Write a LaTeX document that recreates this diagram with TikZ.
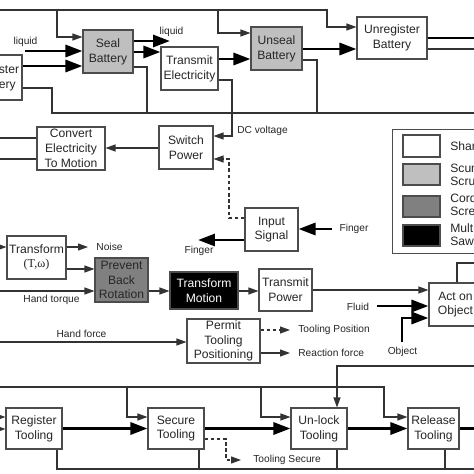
\documentclass[tikz,border=0pt]{standalone}
\usepackage{fontspec}
\setmainfont{Liberation Sans}
\newfontfamily\timesfont{Liberation Serif}
\usetikzlibrary{arrows.meta}

\begin{document}
\begin{tikzpicture}[x=0.02cm, y=-0.02cm,
        fn/.style={draw=black!70, line width=0.6pt, align=center, inner sep=0pt, text=black!85,
            font=\fontsize{6.9}{8.4}\selectfont},
        sz/.style 2 args={minimum width=#1*0.02cm, minimum height=#2*0.02cm},
        lbl/.style={inner sep=0pt, text=black!85, font=\fontsize{5.8}{7}\selectfont},
        keytxt/.style={anchor=west, align=left, inner sep=0pt, text=black!85,
            font=\fontsize{6.9}{7.4}\selectfont},
        wire/.style={draw=black!80, line width=0.6pt},
        bigwire/.style={draw=black, line width=1.7pt},
        flow/.style={wire, -{Triangle[length=0.2cm,width=0.14cm]}},
        bigflow/.style={bigwire, -{Triangle[length=0.34cm,width=0.24cm]}},
        sig/.style={flow, dash pattern=on 2pt off 1.5pt},
        scrub/.style={fill=black!25},
        drill/.style={fill=black!50},
        saw/.style={fill=black, text=white}]

        \fill[white] (0,0) rectangle (474,474);
        \useasboundingbox (0,0) rectangle (474,474);
        \clip (0,0) rectangle (474,474);

        % battery row
        \node[fn, sz={51}{45}] (regbat) at (-3.5,77.5) {Register\\Battery};
        \node[fn, sz={50}{43}, scrub] (seal) at (108,51.5) {Seal\\Battery};
        \node[fn, sz={57}{43}] (trel) at (189.5,68.5) {Transmit\\Electricity};
        \node[fn, sz={51}{43}, scrub] (unseal) at (276.5,48.5) {Unseal\\Battery};
        \node[fn, sz={70}{42}] (unreg) at (392,38) {Unregister\\Battery};

        \node[fn, sz={68}{43}] (conv) at (71,148.5) {Convert\\Electricity\\To Motion};
        \node[fn, sz={54}{43}] (swp) at (186,147.5) {Switch\\Power};
        \node[fn, sz={53}{43}] (insig) at (271.5,229.5) {Input\\Signal};

        % key
        \node[fn, sz={95}{124}, anchor=north west] (key) at (392,129) {};
        \node[fn, sz={37}{22}] (key1) at (421.5,146) {};
        \node[fn, sz={37}{21}, scrub] (key2) at (421.5,174.5) {};
        \node[fn, sz={37}{21}, drill] (key3) at (421.5,206.5) {};
        \node[fn, sz={37}{21}, saw] (key4) at (421.5,235.5) {};
        \node[keytxt] (key1t) at (450,146) {Shared};
        \node[keytxt] (key2t) at (450,174.5) {Scum\\Scrubber};
        \node[keytxt] (key3t) at (450,205) {Cordless\\Screwdriver};
        \node[keytxt] (key4t) at (450,234.5) {Multi\\Saw};

        % drive row
        \node[fn, sz={59}{43}] (transf) at (36.5,257.5) {Transform\\{\timesfont (T,ω)}};
        \node[fn, sz={53}{44}, drill] (prev) at (121.5,280) {Prevent\\Back\\Rotation};
        \node[fn, sz={68}{37}, saw] (tmot) at (204,290.5) {Transform\\Motion};
        \node[fn, sz={53}{42}] (tpow) at (285.5,290) {Transmit\\Power};
        \node[fn, sz={53}{43}] (act) at (455.5,304.5) {Act on\\Object};
        \node[fn, sz={73}{44}] (permit) at (223.5,341) {Permit\\Tooling\\Positioning};

        % tooling row
        \node[fn, sz={56}{41}] (regtool) at (34,428.5) {Register\\Tooling};
        \node[fn, sz={56}{41}] (sectool) at (176,428.5) {Secure\\Tooling};
        \node[fn, sz={56}{41}] (unlock) at (319,428.5) {Un-lock\\Tooling};
        \node[fn, sz={51}{41}] (reltool) at (433.5,428.5) {Release\\Tooling};

        % labels
        \node[lbl] (liq1) at (25.5,42) {liquid};
        \node[lbl] (liq2) at (171.5,32) {liquid};
        \node[lbl] (dcv) at (262.5,131) {DC voltage};
        \node[lbl] (fing1) at (354,229) {Finger};
        \node[lbl] (fing2) at (199,251) {Finger};
        \node[lbl] (noise) at (109.5,247) {Noise};
        \node[lbl] (htorque) at (51.5,300) {Hand torque};
        \node[lbl] (fluid) at (358,307) {Fluid};
        \node[lbl] (objlbl) at (402.5,352) {Object};
        \node[lbl] (hforce) at (81.5,334) {Hand force};
        \node[lbl, anchor=west] (tpos) at (298,330) {Tooling Position};
        \node[lbl, anchor=west] (rforce) at (298,353) {Reaction force};
        \node[lbl, anchor=west] (tsec) at (253,460) {Tooling Secure};

        % battery connectors
        \coordinate (topbus) at (-5,10);
        \draw[flow] (topbus) -| (327,27) -- (unreg.west |- 0,27);
        \draw[flow] (57,10) |- (seal.west |- 0,37);
        \draw[flow] (218,10) |- (unseal.west |- 0,33);

        \coordinate (liqin) at (25,51);
        \draw[bigflow] (liqin) -- (seal.west |- liqin);
        \draw[bigflow] (regbat.east |- 0,66) -- (seal.west |- 0,66);
        \coordinate (liqout) at (170,41);
        \draw[bigflow] (seal.east |- liqout) -- (liqout);
        \draw[bigflow] (seal.east |- 0,52) -- (trel.west |- 0,52);
        \draw[bigflow] (trel.east |- 0,59) -- (unseal.west |- 0,59);
        \draw[bigflow] (unseal.east |- 0,49) -- (unreg.west |- 0,49);
        \coordinate (unregout) at (480,38);
        \draw[bigwire] (unreg.east |- unregout) -- (unregout);
        \draw[wire] (unreg.east |- 0,49) -- (480,49);

        \coordinate (midbus) at (480,113);
        \draw[wire] (regbat.east |- 0,88) -| (52,113) -- (midbus);
        \draw[wire] (seal.east |- 0,67) -| (147,113);
        \draw[wire] (unseal.east |- 0,60) -| (317,113);
        \draw[flow] (trel.east |- 0,80) -| (232,136) -- (swp.east |- 0,136);

        \draw[flow] (swp.west |- 0,148) -- (conv.east |- 0,148);
        \draw[wire] (conv.west |- 0,138) -- (-5,138);
        \draw[wire] (conv.west |- 0,159) -- (-5,159);

        \draw[sig] (insig.west |- 0,218) -| (229,159) -- (swp.east |- 0,159);
        \coordinate (fingin) at (332,229);
        \draw[bigflow] (fingin) -- (insig.east |- fingin);
        \coordinate (fingout) at (198,240);
        \draw[bigflow] (insig.west |- fingout) -- (fingout);

        % drive connectors
        \draw[flow] (-10,247) -- (transf.west |- 0,247);
        \coordinate (noiseout) at (88,247);
        \draw[flow] (transf.east |- noiseout) -- (noiseout);
        \draw[flow] (transf.east |- 0,269) -- (prev.west |- 0,269);
        \draw[flow] (-5,291) -- (prev.west |- 0,291);
        \draw[flow] (prev.east |- 0,291) -- (tmot.west |- 0,291);
        \draw[flow] (tmot.east |- 0,291) -- (tpow.west |- 0,291);
        \draw[flow] (tpow.east |- 0,290) -- (act.west |- 0,290);
        \coordinate (fluidin) at (377,306);
        \draw[bigflow] (fluidin) -- (act.west |- fluidin);
        \coordinate (objin) at (402,342);
        \draw[bigflow] (objin) |- (act.west |- 0,318);
        \draw[wire] (act.north -| 457,0) -- (457,263) -- (480,263);

        \draw[flow] (-5,342) -- (permit.west |- 0,342);
        \coordinate (tposout) at (290,330);
        \draw[sig] (permit.east |- tposout) -- (tposout);
        \coordinate (rforceout) at (290,353);
        \draw[flow] (permit.east |- rforceout) -- (rforceout);

        % tooling connectors
        \draw[flow] (480,366) -| (unlock.north -| 337,0);
        \draw[flow] (-5,387) -| (384,417) -- (reltool.west |- 0,417);
        \draw[flow] (127,387) |- (sectool.west |- 0,417);
        \draw[flow] (261,387) |- (unlock.west |- 0,417);
        \draw[flow] (-10,417) -- (regtool.west |- 0,417);
        \draw[flow] (-10,429) -- (regtool.west |- 0,429);

        \draw[bigflow] (regtool.east) -- (sectool.west);
        \draw[bigflow] (sectool.east) -- (unlock.west);
        \draw[bigflow] (unlock.east) -- (reltool.west);
        \draw[bigwire] (reltool.east) -- (480,428.5);

        \coordinate (tsecout) at (241,460);
        \draw[sig] (sectool.east |- 0,439) -| (226,460) -- (tsecout);

        \draw[wire] (regtool.south -| 57,0) |- (480,469);
        \draw[wire] (sectool.south -| 199,0) -- (199,469);
        \draw[wire] (unlock.south -| 337,0) -- (337,469);
        \draw[wire] (reltool.south -| 445,0) -- (445,469);

    \end{tikzpicture}
\end{document}
